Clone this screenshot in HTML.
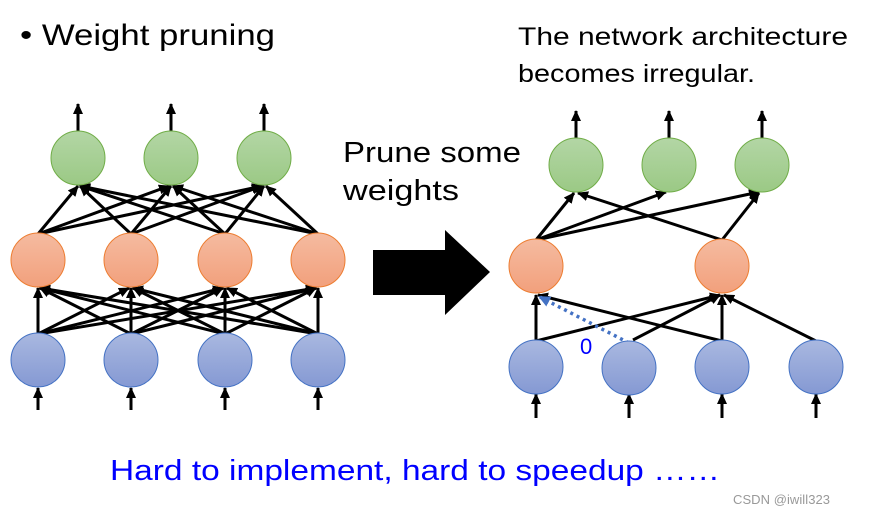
<!DOCTYPE html>
<html><head><style>body{margin:0;background:#fff}</style></head><body>
<svg width="874" height="515" xmlns="http://www.w3.org/2000/svg" font-family="Liberation Sans, DejaVu Sans, sans-serif">
<defs>
<marker id="a" markerWidth="11" markerHeight="10" refX="10" refY="5" orient="auto" markerUnits="userSpaceOnUse"><path d="M0,0 L11,5 L0,10z" fill="#000"/></marker>
<marker id="b" markerWidth="12" markerHeight="11" refX="10" refY="5.5" orient="auto" markerUnits="userSpaceOnUse"><path d="M0,0 L12,5.5 L0,11z" fill="#4472c4"/></marker>
<linearGradient id="g" x1="0" y1="0" x2="0" y2="1"><stop offset="0" stop-color="#b3d6a5"/><stop offset="1" stop-color="#9bc985"/></linearGradient>
<linearGradient id="o" x1="0" y1="0" x2="0" y2="1"><stop offset="0" stop-color="#f5bba0"/><stop offset="1" stop-color="#f2a07c"/></linearGradient>
<linearGradient id="u" x1="0" y1="0" x2="0" y2="1"><stop offset="0" stop-color="#a9b8e0"/><stop offset="1" stop-color="#8599d3"/></linearGradient>
</defs>
<text x="20" y="45" font-size="30" textLength="255" lengthAdjust="spacingAndGlyphs">• Weight pruning</text>
<text x="518" y="45" font-size="25" textLength="330" lengthAdjust="spacingAndGlyphs">The network architecture</text>
<text x="518" y="82" font-size="25" textLength="237" lengthAdjust="spacingAndGlyphs">becomes irregular.</text>
<text x="343" y="162" font-size="29" textLength="178" lengthAdjust="spacingAndGlyphs">Prune some</text>
<text x="343" y="200" font-size="29" textLength="116" lengthAdjust="spacingAndGlyphs">weights</text>
<polygon points="373,250 445,250 445,230 490,272 445,315 445,295 373,295" fill="#000"/>
<text x="110" y="480" font-size="29" fill="#0000ff" textLength="610" lengthAdjust="spacingAndGlyphs">Hard to implement, hard to speedup ……</text>
<text x="733" y="504" font-size="13" fill="#999" textLength="97">CSDN @iwill323</text>
<g stroke="#000" stroke-width="3" marker-end="url(#a)" fill="none">
<line x1="78" y1="131" x2="78" y2="104"/><line x1="171" y1="131" x2="171" y2="104"/><line x1="264" y1="131" x2="264" y2="104"/>
<line x1="38" y1="410" x2="38" y2="388"/><line x1="131" y1="410" x2="131" y2="388"/><line x1="225" y1="410" x2="225" y2="388"/><line x1="318" y1="410" x2="318" y2="388"/>
<line x1="38" y1="234" x2="78" y2="186"/><line x1="38" y1="234" x2="169" y2="186"/><line x1="38" y1="234" x2="262" y2="186"/>
<line x1="131" y1="234" x2="80" y2="186"/><line x1="131" y1="234" x2="171" y2="186"/><line x1="131" y1="234" x2="262" y2="186"/>
<line x1="225" y1="234" x2="80" y2="186"/><line x1="225" y1="234" x2="173" y2="186"/><line x1="225" y1="234" x2="264" y2="186"/>
<line x1="318" y1="234" x2="80" y2="186"/><line x1="318" y1="234" x2="173" y2="186"/><line x1="318" y1="234" x2="266" y2="186"/>
<line x1="38" y1="334" x2="38" y2="288"/><line x1="38" y1="334" x2="129" y2="288"/><line x1="38" y1="334" x2="223" y2="288"/><line x1="38" y1="334" x2="316" y2="288"/>
<line x1="131" y1="334" x2="40" y2="288"/><line x1="131" y1="334" x2="131" y2="288"/><line x1="131" y1="334" x2="223" y2="288"/><line x1="131" y1="334" x2="316" y2="288"/>
<line x1="225" y1="334" x2="40" y2="288"/><line x1="225" y1="334" x2="133" y2="288"/><line x1="225" y1="334" x2="225" y2="288"/><line x1="225" y1="334" x2="316" y2="288"/>
<line x1="318" y1="334" x2="40" y2="288"/><line x1="318" y1="334" x2="133" y2="288"/><line x1="318" y1="334" x2="227" y2="288"/><line x1="318" y1="334" x2="318" y2="288"/>
<line x1="576" y1="138" x2="576" y2="111"/><line x1="669" y1="138" x2="669" y2="111"/><line x1="762" y1="138" x2="762" y2="111"/>
<line x1="536" y1="418" x2="536" y2="394"/><line x1="629" y1="418" x2="629" y2="394"/><line x1="722" y1="418" x2="722" y2="394"/><line x1="816" y1="418" x2="816" y2="394"/>
<line x1="536" y1="240" x2="574" y2="193"/><line x1="536" y1="240" x2="666" y2="192"/><line x1="536" y1="240" x2="759" y2="192"/>
<line x1="722" y1="240" x2="578" y2="193"/><line x1="722" y1="240" x2="759" y2="193"/>
<line x1="536" y1="341" x2="536" y2="295"/><line x1="536" y1="341" x2="720" y2="295"/>
<line x1="633" y1="340" x2="720" y2="295"/>
<line x1="722" y1="341" x2="538" y2="295"/><line x1="722" y1="341" x2="722" y2="295"/>
<line x1="816" y1="341" x2="724" y2="295"/>
</g>
<line x1="629" y1="343" x2="540" y2="297" stroke="#4472c4" stroke-width="3.5" stroke-dasharray="3,4" marker-end="url(#b)"/>
<text x="580" y="354" font-size="22" fill="#0000ff">0</text>
<g stroke-width="1">
<circle cx="78" cy="158" r="27" fill="url(#g)" stroke="#70ad47"/><circle cx="171" cy="158" r="27" fill="url(#g)" stroke="#70ad47"/><circle cx="264" cy="158" r="27" fill="url(#g)" stroke="#70ad47"/>
<circle cx="38" cy="260" r="27" fill="url(#o)" stroke="#ed7d31"/><circle cx="131" cy="260" r="27" fill="url(#o)" stroke="#ed7d31"/><circle cx="225" cy="260" r="27" fill="url(#o)" stroke="#ed7d31"/><circle cx="318" cy="260" r="27" fill="url(#o)" stroke="#ed7d31"/>
<circle cx="38" cy="360" r="27" fill="url(#u)" stroke="#4472c4"/><circle cx="131" cy="360" r="27" fill="url(#u)" stroke="#4472c4"/><circle cx="225" cy="360" r="27" fill="url(#u)" stroke="#4472c4"/><circle cx="318" cy="360" r="27" fill="url(#u)" stroke="#4472c4"/>
<circle cx="576" cy="165" r="27" fill="url(#g)" stroke="#70ad47"/><circle cx="669" cy="165" r="27" fill="url(#g)" stroke="#70ad47"/><circle cx="762" cy="165" r="27" fill="url(#g)" stroke="#70ad47"/>
<circle cx="536" cy="266" r="27" fill="url(#o)" stroke="#ed7d31"/><circle cx="722" cy="266" r="27" fill="url(#o)" stroke="#ed7d31"/>
<circle cx="536" cy="367" r="27" fill="url(#u)" stroke="#4472c4"/><circle cx="629" cy="368" r="27" fill="url(#u)" stroke="#4472c4"/><circle cx="722" cy="367" r="27" fill="url(#u)" stroke="#4472c4"/><circle cx="816" cy="367" r="27" fill="url(#u)" stroke="#4472c4"/>
</g>
</svg>
</body></html>
